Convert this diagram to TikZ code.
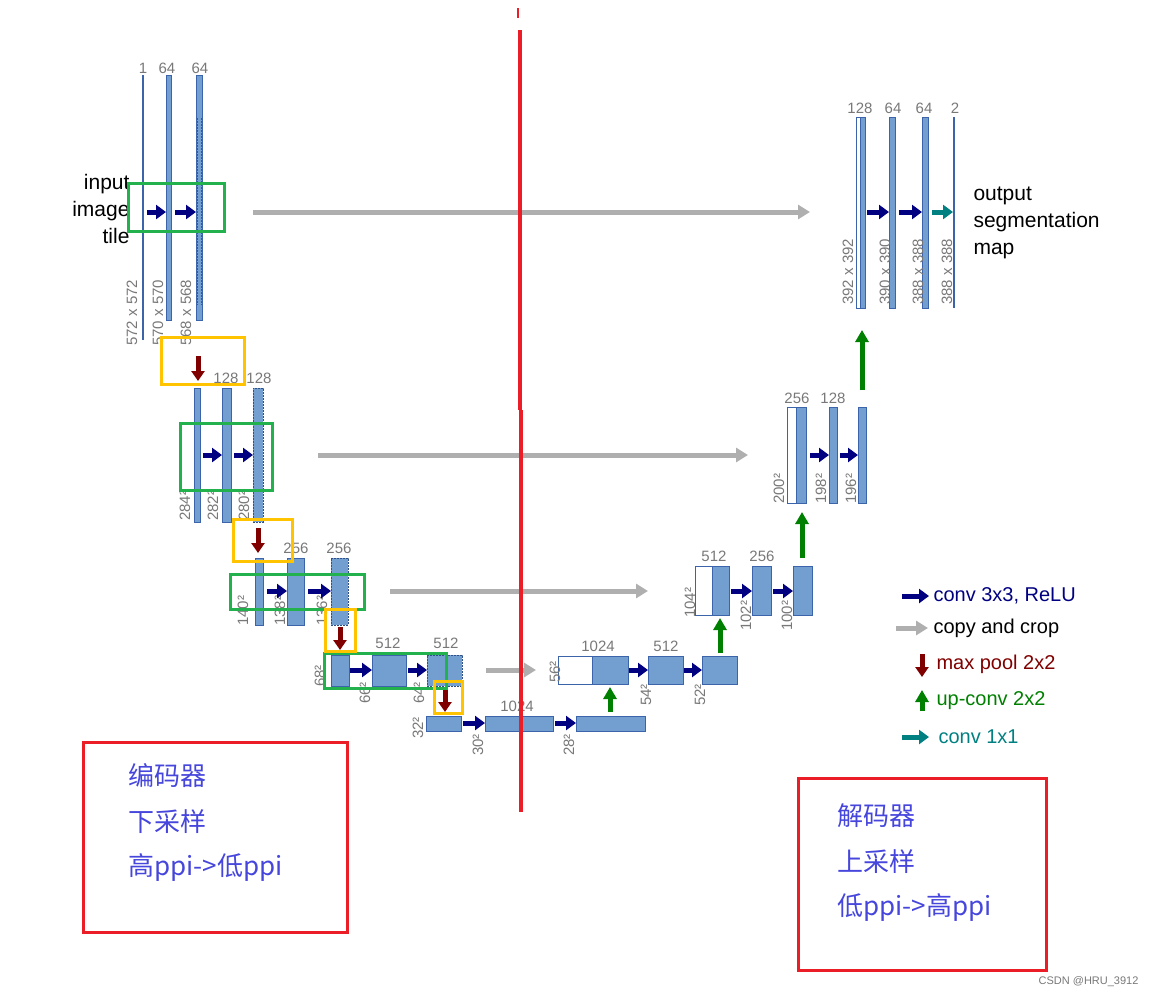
\documentclass[tikz,border=0pt]{standalone}
\usepackage{fontspec}
\setmainfont{Liberation Sans}
\newfontfamily\cjk{Noto Sans CJK SC}
\usetikzlibrary{arrows.meta}
\definecolor{bfill}{RGB}{114,159,207}
\definecolor{bdraw}{RGB}{60,100,170}
\definecolor{lblgray}{RGB}{120,120,120}
\definecolor{navy}{RGB}{0,0,128}
\definecolor{dred}{RGB}{128,0,0}
\definecolor{dgreen}{RGB}{0,128,0}
\definecolor{teal2}{RGB}{0,128,128}
\definecolor{cgray}{RGB}{175,175,175}
\definecolor{gbox}{RGB}{34,177,76}
\definecolor{obox}{RGB}{255,195,0}
\definecolor{rbox}{RGB}{235,30,40}
\definecolor{ctext}{RGB}{70,70,220}
\tikzset{
 blk/.style={draw=bdraw,fill=bfill,line width=0.8pt,inner sep=0pt},
 wblk/.style={draw=bdraw,fill=white,line width=0.8pt,inner sep=0pt},
 dblk/.style={blk,dash pattern=on 2pt off 1pt,draw=bdraw!80!black},
 num/.style={text=lblgray,font=\fontsize{15}{15}\selectfont,inner sep=1pt},
 rnum/.style={num,rotate=90,anchor=west},
 conv/.style={navy,line width=5pt,-{Triangle[length=10pt,width=14pt]}},
 copyc/.style={cgray,line width=5pt,-{Triangle[length=12pt,width=14pt]}},
 pool/.style={dred,line width=5pt,-{Triangle[length=10pt,width=13pt]}},
 upc/.style={dgreen,line width=5pt,-{Triangle[length=12pt,width=13pt]}},
 c11/.style={teal2,line width=5pt,-{Triangle[length=10pt,width=14pt]}},
 gb/.style={draw=gbox,line width=3pt},
 ob/.style={draw=obox,line width=3pt},
 rb/.style={draw=rbox,line width=3pt},
 legt/.style={anchor=west,font=\fontsize{20}{20}\selectfont},
 ctxt/.style={text=ctext,font=\cjk\fontsize{26}{26}\selectfont,anchor=west},
}
\newcommand{\blkn}[6]{\node[#6,minimum width={(#4-#2)*1pt},minimum height={(#5-#3)*1pt}] (#1) at ({(#2+#4)/2},{(#3+#5)/2}) {};}
\begin{document}
\begin{tikzpicture}[x=1pt,y=-1pt]
\useasboundingbox (0,0) rectangle (1154,997);
% level 1
\draw[bdraw,line width=1.5pt] (143,75) -- (143,340);
\blkn{a2}{166}{75}{171}{320}{blk}
\blkn{a3}{196}{75}{202}{320}{blk}
\draw[navy!70,dash pattern=on 2pt off 1pt,line width=1pt] (197,118) -- (197,305) (201,118) -- (201,305);
\node[num] at (143,68) {1}; \node[num] at (167,68) {64}; \node[num] at (200,68) {64};
\node[rnum] at (132,347) {572 x 572};
\node[rnum] at (158,347) {570 x 570};
\node[rnum] at (186,347) {568 x 568};
\draw[conv] (147,212) -- (166,212);
\draw[conv] (175,212) -- (196,212);
\node[anchor=east,align=right,font=\fontsize{21}{27}\selectfont] at (133,209) {input\\image\\tile};
\draw[copyc] (253,212) -- (810,212);
% level 2
\blkn{b1}{194}{388}{200}{522}{blk}
\blkn{b2}{222}{388}{231}{522}{blk}
\blkn{b3}{253}{388}{263}{522}{dblk}
\node[num] at (226,378) {128}; \node[num] at (259,378) {128};
\node[rnum] at (185,522) {284²};
\node[rnum] at (213,522) {282²};
\node[rnum] at (244,522) {280²};
\draw[conv] (203,455) -- (222,455);
\draw[conv] (234,455) -- (253,455);
\draw[copyc] (318,455) -- (748,455);
% level 3
\blkn{c1}{255}{558}{263}{625}{blk}
\blkn{c2}{287}{558}{304}{625}{blk}
\blkn{c3}{331}{558}{348}{625}{dblk}
\node[num] at (296,548) {256}; \node[num] at (339,548) {256};
\node[rnum] at (243,627) {140²};
\node[rnum] at (280,627) {138²};
\node[rnum] at (322,627) {136²};
\draw[conv] (267,591) -- (287,591);
\draw[conv] (308,591) -- (331,591);
\draw[copyc] (390,591) -- (648,591);
% level 4
\blkn{d1}{331}{655}{349}{686}{blk}
\blkn{d2}{372}{655}{406}{686}{blk}
\blkn{d3}{427}{655}{462}{686}{dblk}
\node[num] at (388,643) {512}; \node[num] at (446,643) {512};
\node[rnum] at (320,688) {68²};
\node[rnum] at (365,705) {66²};
\node[rnum] at (419,705) {64²};
\draw[conv] (350,670) -- (372,670);
\draw[conv] (408,670) -- (427,670);
\draw[copyc] (486,670) -- (536,670);
% level 5
\blkn{e1}{426}{716}{461}{731}{blk}
\blkn{e2}{485}{716}{553}{731}{blk}
\blkn{e3}{576}{716}{645}{731}{blk}
\node[num] at (517,706) {1024};
\node[rnum] at (418,740) {32²};
\node[rnum] at (478,757) {30²};
\node[rnum] at (569,757) {28²};
\draw[conv] (463,723) -- (485,723);
\draw[conv] (555,723) -- (576,723);
% pools
\draw[pool] (198,356) -- (198,381);
\draw[pool] (258,528) -- (258,553);
\draw[pool] (340,627) -- (340,650);
\draw[pool] (445,688) -- (445,712);
% decoder level 4
\blkn{f0}{558}{656}{592}{684}{wblk}
\blkn{f1}{592}{656}{628}{684}{blk}
\blkn{f2}{648}{656}{683}{684}{blk}
\blkn{f3}{702}{656}{737}{684}{blk}
\node[num] at (598,646) {1024}; \node[num] at (666,646) {512};
\node[rnum] at (555,684) {56²};
\node[rnum] at (646,707) {54²};
\node[rnum] at (700,707) {52²};
\draw[conv] (629,670) -- (648,670);
\draw[conv] (684,670) -- (702,670);
\draw[upc] (610,712) -- (610,687);
% decoder level 3
\blkn{g0}{695}{566}{712}{615}{wblk}
\blkn{g1}{712}{566}{729}{615}{blk}
\blkn{g2}{752}{566}{771}{615}{blk}
\blkn{g3}{793}{566}{812}{615}{blk}
\node[num] at (714,556) {512}; \node[num] at (762,556) {256};
\node[rnum] at (690,619) {104²};
\node[rnum] at (746,632) {102²};
\node[rnum] at (787,632) {100²};
\draw[conv] (731,591) -- (752,591);
\draw[conv] (773,591) -- (793,591);
\draw[upc] (720,653) -- (720,618);
% decoder level 2
\blkn{h0}{787}{407}{796}{503}{wblk}
\blkn{h1}{796}{407}{806}{503}{blk}
\blkn{h2}{829}{407}{837}{503}{blk}
\blkn{h3}{858}{407}{866}{503}{blk}
\node[num] at (797,398) {256}; \node[num] at (833,398) {128};
\node[rnum] at (779,505) {200²};
\node[rnum] at (821,505) {198²};
\node[rnum] at (851,505) {196²};
\draw[conv] (810,455) -- (829,455);
\draw[conv] (840,455) -- (858,455);
\draw[upc] (802,558) -- (802,512);
% decoder level 1
\blkn{i0}{856}{117}{860}{308}{wblk}
\blkn{i1}{860}{117}{865}{308}{blk}
\blkn{i2}{889}{117}{895}{308}{blk}
\blkn{i3}{922}{117}{928}{308}{blk}
\draw[bdraw,line width=1.5pt] (954,117) -- (954,308);
\node[num] at (860,108) {128}; \node[num] at (893,108) {64};
\node[num] at (924,108) {64}; \node[num] at (955,108) {2};
\node[rnum] at (848,306) {392 x 392};
\node[rnum] at (885,306) {390 x 390};
\node[rnum] at (918,306) {388 x 388};
\node[rnum] at (947,306) {388 x 388};
\draw[conv] (867,212) -- (889,212);
\draw[conv] (899,212) -- (922,212);
\draw[c11] (932,212) -- (953,212);
\draw[upc] (862,390) -- (862,330);
\node[anchor=west,align=left,font=\fontsize{21}{27}\selectfont] at (970,223) {output\\segmentation\\map};
% legend
\draw[conv] (902,596) -- (929,596);
\node[legt,text=navy] at (930,596) {conv 3x3, ReLU};
\draw[copyc] (896,628) -- (928,628);
\node[legt] at (930,628) {copy and crop};
\draw[pool] (922,654) -- (922,677);
\node[legt,text=dred] at (933,664) {max pool 2x2};
\draw[upc] (922,711) -- (922,690);
\node[legt,text=dgreen] at (933,701) {up-conv 2x2};
\draw[c11] (902,737) -- (929,737);
\node[legt,text=teal2] at (935,737) {conv 1x1};
% highlight boxes
\draw[gb] (128,183) rectangle (224,231);
\draw[gb] (180,423) rectangle (272,490);
\draw[gb] (230,574) rectangle (364,609);
\draw[gb] (324,653) rectangle (446,688);
\draw[ob] (161,337) rectangle (244,384);
\draw[ob] (233,519) rectangle (292,561);
\draw[ob] (325,609) rectangle (355,651);
\draw[ob] (434,681) rectangle (462,713);
% red divider
\draw[rbox,line width=3.5pt] (520,30) -- (520,410);
\draw[rbox,line width=3.5pt] (521,410) -- (521,812);
\draw[rbox,line width=1.5pt] (518,8) -- (518,18);
% text boxes
\draw[rb] (83,742) rectangle (347,932);
\node[ctxt] at (125,776) {编码器};
\node[ctxt] at (125,822) {下采样};
\node[ctxt] at (125,868) {高ppi->低ppi};
\draw[rb] (798,778) rectangle (1046,970);
\node[ctxt] at (834,816) {解码器};
\node[ctxt] at (834,862) {上采样};
\node[ctxt] at (834,908) {低ppi->高ppi};
\node[anchor=east,text=lblgray,font=\fontsize{11}{11}\selectfont] at (1142,982) {CSDN @HRU\_3912};
\end{tikzpicture}
\end{document}
